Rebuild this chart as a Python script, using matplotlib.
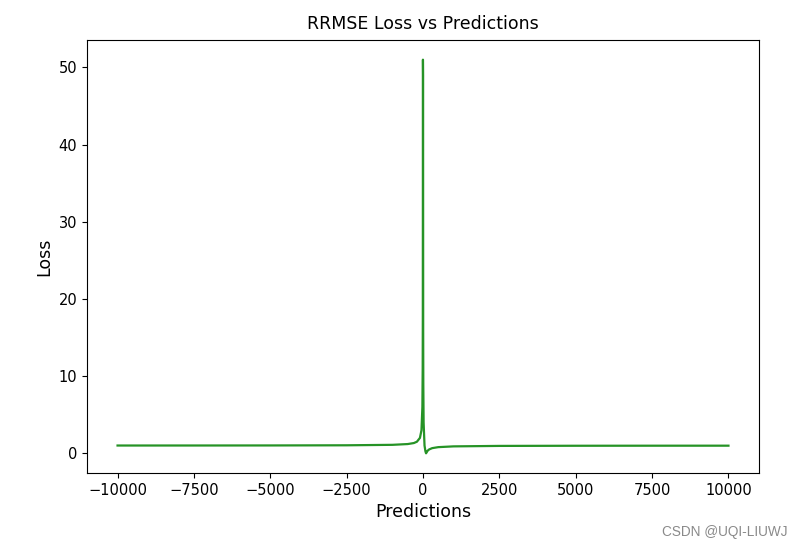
import matplotlib
matplotlib.use('Agg')
import matplotlib.pyplot as plt

# Predictions (x) and RRMSE loss (y)
predictions = [-10000, -7500, -5000, -2500, -1000, -500, -300, -200, -100,
               -50, -20, -10, -6, -2, 2, 6, 10, 20, 50, 80, 100, 150, 200,
               300, 500, 1000, 2500, 5000, 7500, 10000]
loss = [1.01, 1.013, 1.02, 1.04, 1.10, 1.20, 1.33, 1.50, 2.00,
        3.00, 6.00, 11.0, 17.7, 51.0, 49.0, 15.7, 9.0, 4.0, 1.0, 0.25, 0.0, 0.33, 0.50,
        0.67, 0.80, 0.90, 0.96, 0.98, 0.987, 0.99]

fig = plt.figure(figsize=(8.02, 5.49), dpi=100)
ax = fig.add_axes([87 / 802, 1 - 473 / 549, (759 - 87) / 802, (473 - 40) / 549])

ax.plot(predictions, loss, color='green', linewidth=1.6, alpha=0.85)
ax.set_title('RRMSE Loss vs Predictions', fontsize=12.5, pad=8)
ax.set_xlabel('Predictions', fontsize=12.5)
ax.set_ylabel('Loss', fontsize=12.5)
ax.tick_params(labelsize=10.5)

fig.text(788 / 802, 1 - 532 / 549, 'CSDN @UQI-LIUWJ', ha='right', va='center',
         fontsize=9.8, color='#8a8a8a', family='Liberation Sans')

fig.savefig('out.png', dpi=100)
